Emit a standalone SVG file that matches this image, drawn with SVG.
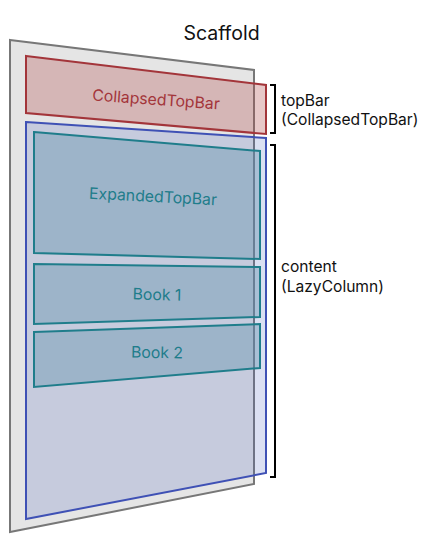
<svg xmlns="http://www.w3.org/2000/svg" width="440" height="546" viewBox="0 0 440 546">
<style>
text{font-family:Inter,"Noto Sans","Liberation Sans",sans-serif}
.lbl{font-size:15.6px;fill:#111}
.in{font-size:15.8px;text-anchor:middle}
.teal{fill:#5f92ad;fill-opacity:0.4;stroke:#1f7d8b;stroke-width:2}
.br{fill:none;stroke:#000;stroke-width:2}
</style>
<rect width="440" height="546" fill="#fff"/>
<g id="scaffold">
<polygon points="10,40 254,70 254,484 10,532" fill="#e5e5e5" stroke="#777" stroke-width="2"/>
<text x="221.5" y="40" font-size="19.5" text-anchor="middle" fill="#111">Scaffold</text>
</g>
<g id="collapsedTopBar">
<polygon points="26,56 266,85 266,134 26,113" fill="#b04848" fill-opacity="0.3" stroke="#a3353a" stroke-width="2"/>
<text class="in" x="156" y="105" fill="#a3353a" transform="rotate(4 156 100)">CollapsedTopBar</text>
</g>
<g id="content">
<polygon points="26,122 266,138 266,473 26,519" fill="#4a62c0" fill-opacity="0.2" stroke="#3f51b5" stroke-width="2"/>
</g>
<g id="expandedTopBar">
<polygon class="teal" points="34,132 260,151 260,259 34,253"/>
<text class="in" x="153" y="202" fill="#1f7d8b" transform="rotate(3 153 197)">ExpandedTopBar</text>
</g>
<g id="book1">
<polygon class="teal" points="34,264 260,267 260,317 34,324"/>
<text class="in" x="157" y="300" fill="#1f7d8b" transform="rotate(1.5 157 295)">Book 1</text>
</g>
<g id="book2">
<polygon class="teal" points="34,332 260,324 260,368 34,387"/>
<text class="in" x="157" y="358" fill="#1f7d8b" transform="rotate(1 157 353)">Book 2</text>
</g>
<g id="connectors">
<polyline class="br" points="270,85 275,85 275,133 270,133"/>
<polyline class="br" points="270,145 275,145 275,477 270,477"/>
</g>
<g id="topBarLabel">
<text class="lbl" x="281" y="106">topBar</text>
<text class="lbl" x="281" y="125">(CollapsedTopBar)</text>
</g>
<g id="contentLabel">
<text class="lbl" x="281" y="272">content</text>
<text class="lbl" x="281" y="292">(LazyColumn)</text>
</g>
</svg>
